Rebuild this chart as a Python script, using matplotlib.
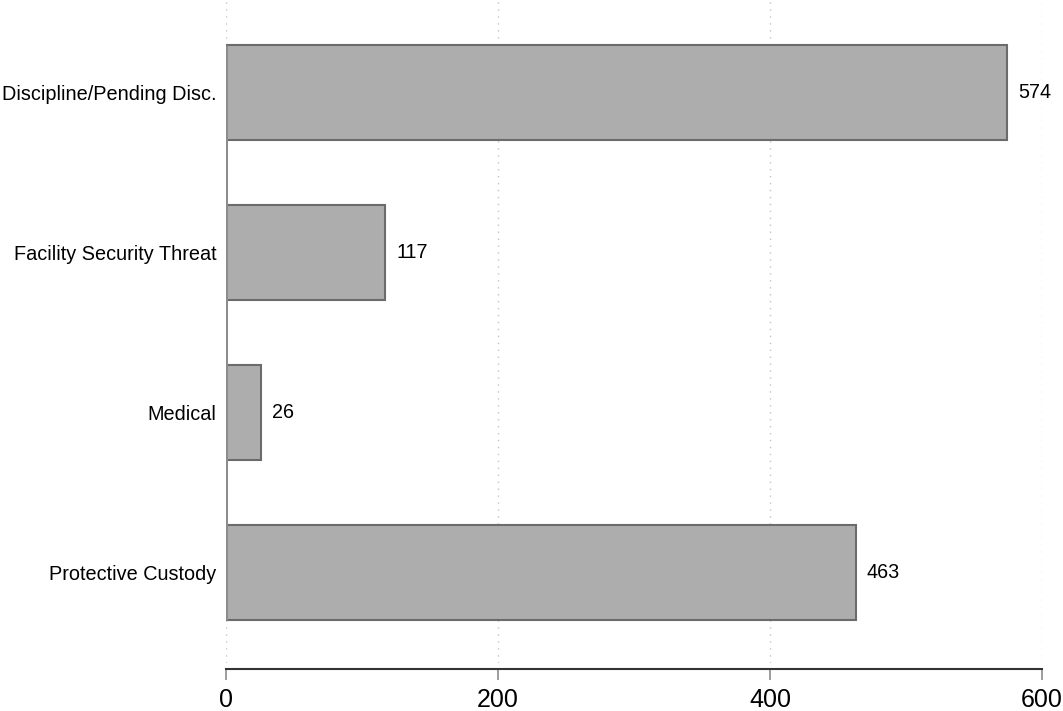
import matplotlib
matplotlib.use("Agg")
import matplotlib.pyplot as plt
import numpy as np

categories = ["Discipline/Pending Disc.", "Facility Security Threat", "Medical", "Protective Custody"]
values = [574, 117, 26, 463]
xticks = [0, 200, 400, 600]
xtick_labels = ["0", "200", "400", "600"]

plt.rcParams['font.family'] = ['Liberation Sans', 'DejaVu Sans']

fig = plt.figure(figsize=(10.63, 7.11), dpi=100)
ax = fig.add_axes([226/1063, 1 - 663/711, (1042-226)/1063, 663/711])

for s in ["top", "right", "left"]:
    ax.spines[s].set_visible(False)
ax.spines["bottom"].set_position(("outward", 4))
ax.spines["bottom"].set_color("#333333")
ax.spines["bottom"].set_linewidth(1.5)

pos = np.arange(len(categories))
bar_h = 0.594
bars = ax.barh(pos, values, height=bar_h, color="#adadad", edgecolor="#6b6b6b", linewidth=1.5, zorder=3)

ax.set_xlim(0, 600)
ax.set_ylim(3.566, -0.578)

# Left baseline spanning the bars
ax.vlines(0, pos[0] - bar_h/2, pos[-1] + bar_h/2, color="#8c8c8c", linewidth=2.2, zorder=4)

for p, v in zip(pos, values):
    ax.annotate(str(v), (v, p), xytext=(8, 0), textcoords="offset points",
                ha="left", va="center", fontsize=14.2, color="black")

ax.set_yticks(pos)
ax.set_yticklabels(categories)
ax.tick_params(axis="y", length=0, pad=7, labelsize=14.3)

ax.set_xticks(xticks)
ax.set_xticklabels(xtick_labels)
ax.tick_params(axis="x", length=8, width=1.2, color="#8c8c8c", pad=6, labelsize=18)

ax.grid(axis="x", linestyle=(0, (1, 4)), color="#c4c4c4", linewidth=1.0, zorder=0)

fig.savefig("out.png", dpi=100)
